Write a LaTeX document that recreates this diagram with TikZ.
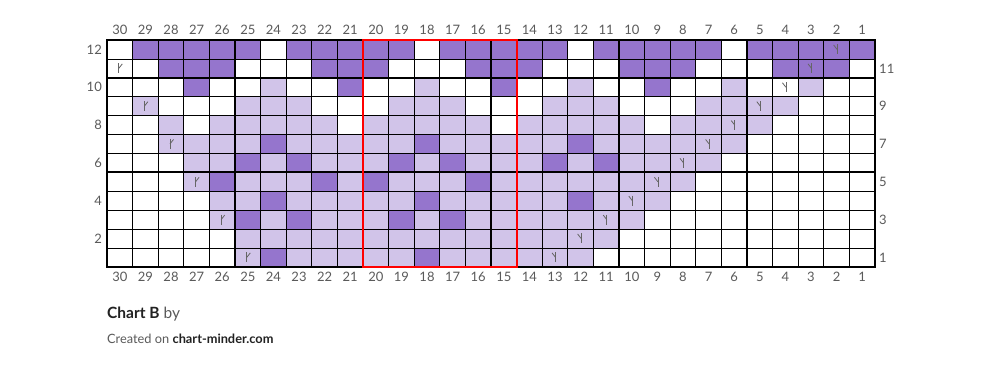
\documentclass[tikz,border=0pt]{standalone}
\usepackage{fontspec}
\setmainfont{Lato}
\definecolor{dk}{HTML}{9575CD}
\definecolor{lt}{HTML}{D1C4E9}
\definecolor{lab}{HTML}{5A5A5A}
\definecolor{symc}{HTML}{666666}
\definecolor{ttl}{HTML}{222222}
\begin{document}
\begin{tikzpicture}[x=1pt,y=-1pt,
  numlab/.style={text=lab,font=\fontsize{13}{15}\selectfont,inner sep=0pt},
  thin grid/.style={line width=0.8pt,black},
  thick grid/.style={line width=2pt,black},
  symline/.style={line width=0.8pt,symc}]
\useasboundingbox[fill=white] (0,0) rectangle (981,370);
\def\X{107}\def\Y{40}\def\W{25.6}\def\H{18.9}
% cell fills: columns 30..1 left to right; 0 white, 1 light, 2 dark
\foreach \r/\vals in {
 12/{0,2,2,2,2,2,0,2,2,2, 2,2,0,2,2,2,2,2,0,2, 2,2,2,2,0,2,2,2,2,2},
 11/{0,0,2,2,2,0,0,0,2,2, 2,0,0,0,2,2,2,0,0,0, 2,2,2,0,0,0,2,2,2,0},
 10/{0,0,0,2,0,0,1,0,0,2, 0,0,1,0,0,2,0,0,1,0, 0,2,0,0,1,0,0,1,0,0},
 9/{0,1,0,0,0,1,1,1,0,0, 0,1,1,1,0,0,0,1,1,1, 0,0,0,1,1,1,1,0,0,0},
 8/{0,0,1,0,1,1,1,1,1,0, 1,1,1,1,1,0,1,1,1,1, 1,0,1,1,1,1,0,0,0,0},
 7/{0,0,1,1,1,1,2,1,1,1, 1,1,2,1,1,1,1,1,2,1, 1,1,1,1,1,0,0,0,0,0},
 6/{0,0,0,1,1,2,1,2,1,1, 1,2,1,2,1,1,1,2,1,2, 1,1,1,1,0,0,0,0,0,0},
 5/{0,0,0,1,2,1,1,1,2,1, 2,1,1,1,2,1,1,1,1,1, 1,1,1,0,0,0,0,0,0,0},
 4/{0,0,0,0,1,1,2,1,1,1, 1,1,2,1,1,1,1,1,2,1, 1,1,0,0,0,0,0,0,0,0},
 3/{0,0,0,0,1,2,1,2,1,1, 1,2,1,2,1,1,1,1,1,1, 1,0,0,0,0,0,0,0,0,0},
 2/{0,0,0,0,0,1,1,1,1,1, 1,1,1,1,1,1,1,1,1,1, 0,0,0,0,0,0,0,0,0,0},
 1/{0,0,0,0,0,1,2,1,1,1, 1,1,2,1,1,1,1,1,1,0, 0,0,0,0,0,0,0,0,0,0}}{
  \foreach \v [count=\i] in \vals {
    \ifcase\v
    \or \fill[lt] ({\X+(\i-1)*\W},{\Y+(12-\r)*\H}) rectangle ++(\W,\H);
    \or \fill[dk] ({\X+(\i-1)*\W},{\Y+(12-\r)*\H}) rectangle ++(\W,\H);
    \fi
  }
}
% thin grid
\foreach \i in {0,...,30}
  \draw[thin grid] ({\X+\i*\W},\Y) -- ({\X+\i*\W},{\Y+12*\H});
\foreach \j in {0,...,12}
  \draw[thin grid] (\X,{\Y+\j*\H}) -- ({\X+30*\W},{\Y+\j*\H});
% thick grid
\foreach \i in {0,5,...,30}
  \draw[thick grid] ({\X+\i*\W},\Y) -- ({\X+\i*\W},{\Y+12*\H});
\foreach \j in {0,2,7,12}
  \draw[thick grid] ({\X-1},{\Y+\j*\H}) -- ({\X+30*\W+1},{\Y+\j*\H});
% red frame
\draw[red,line width=2pt] ({\X+10*\W},\Y) rectangle ({\X+16*\W},{\Y+12*\H});
% symbols: left type (col/row)
\foreach \c/\r in {30/11,29/9,28/7,27/5,26/3,25/1}{
  \pgfmathsetmacro\cx{\X+(30-\c+0.5)*\W-1}
  \pgfmathsetmacro\cy{\Y+(12-\r+0.5)*\H}
  \draw[symline] (\cx,\cy-5) -- (\cx,\cy+5);
  \draw[symline] (\cx,\cy) -- (\cx+3.5,\cy-4.5);
}
% symbols: right type
\foreach \c/\r in {2/12,3/11,4/10,5/9,6/8,7/7,8/6,9/5,10/4,11/3,12/2,13/1}{
  \pgfmathsetmacro\cx{\X+(30-\c+0.5)*\W+0.5}
  \pgfmathsetmacro\cy{\Y+(12-\r+0.5)*\H}
  \draw[symline] (\cx,\cy-5) -- (\cx,\cy+5);
  \draw[symline] (\cx,\cy) -- (\cx-3.5,\cy-4.5);
}
% column numbers
\foreach \i in {1,...,30}{
  \pgfmathtruncatemacro\c{31-\i}
  \node[numlab] at ({\X+(\i-0.5)*\W},30) {\c};
  \node[numlab] at ({\X+(\i-0.5)*\W},277) {\c};
}
% row numbers
\foreach \r in {12,10,...,2}
  \node[numlab,anchor=east] at (102,{\Y+(12-\r+0.5)*\H}) {\r};
\foreach \r in {11,9,...,1}
  \node[numlab,anchor=west] at (879,{\Y+(12-\r+0.5)*\H}) {\r};
% titles
\node[anchor=west,inner sep=0pt,font=\fontsize{15.5}{18}\selectfont] (title) at (107,314)
  {\textcolor{ttl}{\textbf{Chart B}} \textcolor{lab}{by}};
\node[anchor=west,inner sep=0pt,font=\fontsize{12.8}{15}\selectfont] (credit) at (107,339)
  {\textcolor{lab}{Created on} \textcolor{ttl}{\textbf{chart-minder.com}}};
\end{tikzpicture}
\end{document}
